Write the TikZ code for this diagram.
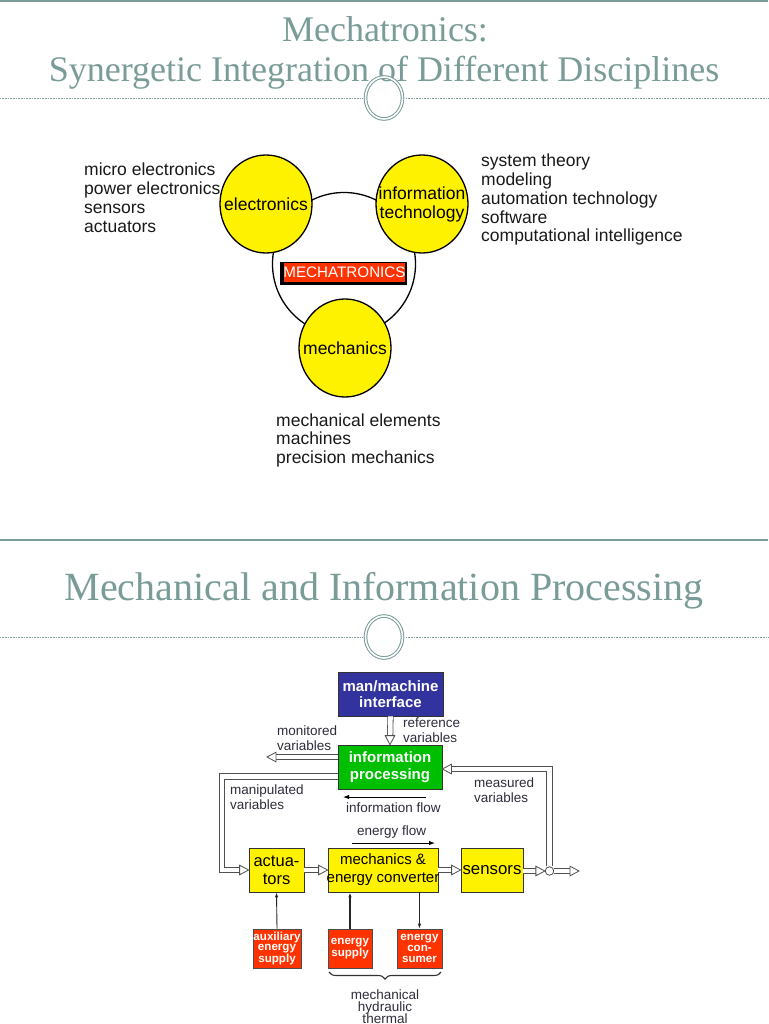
\documentclass[tikz,border=0pt]{standalone}
\usepackage{fontspec}
\setmainfont{Liberation Serif}
\setsansfont{Liberation Sans}
\usetikzlibrary{shapes.geometric,arrows.meta,decorations.pathreplacing,calc}
\definecolor{teal1}{RGB}{122,156,153}
\definecolor{mblue}{RGB}{51,51,160}
\definecolor{mgreen}{RGB}{0,190,0}
\definecolor{mred}{RGB}{255,51,0}
\definecolor{dtext}{RGB}{45,45,60}
\definecolor{lgray}{RGB}{80,80,80}
\newcommand{\zb}[1]{\makebox[0pt]{#1}}
\begin{document}
\begin{tikzpicture}[x=1pt,y=-1pt,
  titleA/.style={font=\fontsize{36}{40}\selectfont, text=teal1, inner sep=0pt, anchor=base},
  titleB/.style={font=\fontsize{40}{44}\selectfont, text=teal1, inner sep=0pt, anchor=base},
  ring/.style={ellipse, draw=teal1, double=white, double distance=1.6pt, line width=1pt, minimum width=37pt, minimum height=42pt, inner sep=0pt},
  circ/.style={ellipse, draw=black, line width=1.3pt, fill=yellow, minimum width=92pt, minimum height=98pt, inner sep=0pt, align=center, font=\sffamily\fontsize{17.5}{19}\selectfont},
  lst/.style={font=\sffamily\fontsize{17.5}{19}\selectfont, inner sep=0pt, anchor=base west, text=black!90},
  lab/.style={font=\sffamily\fontsize{13.5}{15}\selectfont, inner sep=0pt, anchor=base west, text=dtext},
  bbox/.style={draw=black!80, line width=0.8pt, inner sep=0pt, align=center, text=white, font=\sffamily\bfseries\fontsize{15}{16.5}\selectfont},
  ybox/.style={draw=black!80, line width=0.8pt, inner sep=0pt, align=center, fill=yellow, text=black, minimum height=44pt},
  rbox/.style={draw=black!70, line width=0.6pt, inner sep=0pt, align=center, fill=mred, text=white, minimum height=39pt, font=\sffamily\bfseries\fontsize{11.6}{10.8}\selectfont},
  dbl/.style={draw=lgray, line width=0.8pt, double=white, double distance=4.6pt},
  tipst/.style={draw=lgray, line width=0.8pt, fill=white},
  otipR/.pic={\draw[tipst] (0,0) -- (-9,-4.8) -- (-9,4.8) -- cycle;},
  otipL/.pic={\draw[tipst] (0,0) -- (9,-4.8) -- (9,4.8) -- cycle;},
  otipD/.pic={\draw[tipst] (0,0) -- (-4.8,-9) -- (4.8,-9) -- cycle;},
  flow/.style={draw=black, line width=1pt, -{Latex[length=6pt,width=4.5pt]}},
  supp/.style={draw=black!85, line width=0.9pt, -{Latex[length=5pt,width=3.5pt]}}
]
\useasboundingbox (0,0) rectangle (768,1024);
\fill[white] (0,0) rectangle (768,1024);

% ---------- slide 1 ----------
\draw[teal1, line width=1.6pt] (0,1) -- (768,1);
\node[titleA] (t1a) at (385,42) {Mechatronics:};
\node[titleA] (t1b) at (384,82) {Synergetic Integration of Different Disciplines};
\draw[teal1, line width=0.8pt, dash pattern=on 0.8pt off 0.8pt] (0,98) -- (362,98) (406,98) -- (768,98);
\node[ring] (r1) at (384,98) {};

\node[circle, draw=black, line width=1.3pt, minimum size=143pt, inner sep=0pt] (big) at (344,264) {};
\node[circ] (el) at (266,204) {\zb{electronics}};
\node[circ] (it) at (422,204) {\zb{information}\\\zb{technology}};
\node[circ] (me) at (345,348) {\zb{mechanics}};

\fill[black] (280,262) rectangle (407,285);
\node[fill=mred, text=white, inner sep=0pt, minimum width=121pt, minimum height=19pt, font=\sffamily\fontsize{15.2}{16}\selectfont] (mt) at (344.5,272.5) {\zb{MECHATRONICS}};

\foreach \t [count=\i] in {micro electronics, power electronics, sensors, actuators}
  \node[lst] (ell\i) at (84,{176+18.7*(\i-1)}) {\t};
\foreach \t [count=\i] in {system theory, modeling, automation technology, software, computational intelligence}
  \node[lst] (itl\i) at (481,{167+18.7*(\i-1)}) {\t};
\foreach \t [count=\i] in {mechanical elements, machines, precision mechanics}
  \node[lst] (mel\i) at (276,{426+18.7*(\i-1)}) {\t};

% ---------- slide 2 ----------
\draw[teal1, line width=1.6pt] (0,540) -- (768,540);
\node[titleB] (t2) at (384,600) {Mechanical and Information Processing};
\draw[teal1, line width=0.8pt, dash pattern=on 0.8pt off 0.8pt] (0,637) -- (362,637) (406,637) -- (768,637);
\node[ring] (r2) at (384,637) {};

\node[bbox, fill=mblue, minimum width=105pt, minimum height=44pt] (mmi) at (390.5,694) {man/machine\\interface};
\node[bbox, fill=mgreen, minimum width=104pt, minimum height=44pt] (ip) at (390,767) {information\\processing};
\node[ybox, minimum width=55pt, font=\sffamily\fontsize{16.5}{17.5}\selectfont] (act) at (276.5,870) {actua-\\tors};
\node[ybox, minimum width=110pt, font=\sffamily\fontsize{15}{18}\selectfont] (mec) at (383,870) {mechanics \&\\\makebox[100pt]{energy converter}};
\node[ybox, minimum width=62pt, font=\sffamily\fontsize{16.8}{18}\selectfont] (sen) at (492,870) {\makebox[50pt]{sensors}};
\node[circle, draw=lgray, line width=0.8pt, fill=white, minimum size=8.5pt, inner sep=0pt] (jn) at (549.5,871) {};
\node[rbox, minimum width=48pt] (aux) at (277,948.5) {\makebox[40pt]{auxiliary}\\energy\\supply};
\node[rbox, minimum width=44pt] (es) at (350,948.5) {energy\\supply};
\node[rbox, minimum width=45pt] (ec) at (419.5,948.5) {energy\\con-\\sumer};

\coordinate (mon) at (267,757);
\coordinate (m1) at (222,776.5);
\coordinate (m2) at (222,870);
\coordinate (f1) at (549.5,769);
\coordinate (out) at (579,871);
\coordinate (if1) at (426,797);
\coordinate (if2) at (343,797);
\coordinate (ef1) at (352,843);
\coordinate (ef2) at (435,843);

% double arrows
\draw[dbl, shorten >=8pt] (mmi.south) -- (ip.north);
\pic at (ip.north) {otipD};
\draw[dbl, shorten >=8pt] (ip.west |- mon) -- (mon);
\pic at (mon) {otipL};
\draw[dbl, shorten >=8pt] (ip.west |- m1) -- (m1) -- (m2) -- (act.west |- m2);
\pic at (act.west |- m2) {otipR};
\draw[dbl, shorten >=8pt] (act.east) -- (mec.west);
\pic at (mec.west) {otipR};
\draw[dbl, shorten >=8pt] (mec.east) -- (sen.west);
\pic at (sen.west) {otipR};
\draw[dbl, shorten >=8pt] (sen.east |- jn) -- (jn.west);
\pic at (jn.west) {otipR};
\draw[dbl, shorten >=8pt] (jn.east) -- (out);
\pic at (out) {otipR};
\draw[dbl, shorten >=8pt] (jn.north) -- (f1) -- (ip.east |- f1);
\pic at (ip.east |- f1) {otipL};

% flow arrows
\draw[flow] (if1) -- (if2);
\draw[flow] (ef1) -- (ef2);

% supply arrows
\draw[supp] (aux.north) -- (act.south);
\draw[supp, line width=1.4pt] (es.north) -- (es.north |- mec.south);
\draw[supp] (ec.north |- mec.south) -- (ec.north);

\draw[decorate, decoration={brace, mirror, amplitude=7pt}, draw=black!80, line width=1.1pt] (329,972) -- (441,972);

% labels
\node[lab] (rv1) at (403,727) {reference};
\node[lab] (rv2) at (403,742) {variables};
\node[lab] (mv1) at (277,735) {monitored};
\node[lab] (mv2) at (277,750) {variables};
\node[lab] (ms1) at (474,787) {measured};
\node[lab] (ms2) at (474,802) {variables};
\node[lab] (mp1) at (230,794) {manipulated};
\node[lab] (mp2) at (230,809) {variables};
\node[lab] (ifl) at (346,812) {information flow};
\node[lab] (efl) at (357,835) {energy flow};
\node[lab, anchor=base] (ty1) at (385,999) {mechanical};
\node[lab, anchor=base] (ty2) at (385,1011.5) {hydraulic};
\node[lab, anchor=base] (ty3) at (385,1023) {thermal};
\end{tikzpicture}
\end{document}
